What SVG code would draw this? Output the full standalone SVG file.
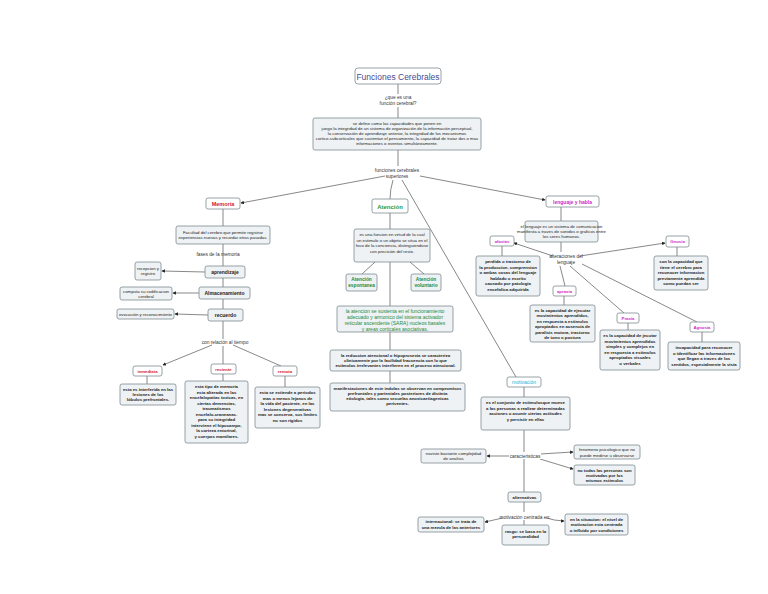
<svg xmlns="http://www.w3.org/2000/svg" width="768" height="594" viewBox="0 0 768 594">
<style>
.b{fill:#eef2f4;stroke:#7d8a90;stroke-width:0.8}
.w{fill:#ffffff;stroke:#7d8a90;stroke-width:0.8}
text{font-family:"Liberation Sans",Arial,sans-serif;font-size:4.3px;fill:#222;text-anchor:middle}
.bd{font-weight:bold}
.h{font-size:6px;font-weight:bold}
.r{fill:#d4202a}.g{fill:#1f9a3a}.m{fill:#d21fc8}.c{fill:#1ab0d8}
.gt{fill:#1f8a3a;font-weight:bold;font-size:4.8px}
.lb{font-size:4.8px;fill:#333}
#con line,#con path{stroke:#555;stroke-width:0.7;fill:none}
</style>
<defs><marker id="a" viewBox="0 0 6 6" refX="5" refY="3" markerWidth="5" markerHeight="5" orient="auto"><path d="M0 0L6 3L0 6z" fill="#222"/></marker></defs>
<rect width="768" height="594" fill="#fff"/>
<g id="con">
<line x1="398" y1="84" x2="398" y2="94"/><line x1="398" y1="107" x2="398" y2="118"/>
<line x1="398" y1="150" x2="398" y2="166"/>
<line x1="385" y1="176" x2="241" y2="203" marker-end="url(#a)"/>
<path d="M393 180 Q390 190 390 199"/>
<line x1="402" y1="180" x2="516" y2="377"/>
<line x1="420" y1="176" x2="545" y2="200" marker-end="url(#a)"/>
<line x1="223" y1="209" x2="223" y2="339"/>
<line x1="205" y1="272" x2="162" y2="271" marker-end="url(#a)"/>
<line x1="199" y1="293" x2="173" y2="293" marker-end="url(#a)"/>
<line x1="208" y1="315" x2="175" y2="314" marker-end="url(#a)"/>
<line x1="212" y1="345" x2="163" y2="365" marker-end="url(#a)"/>
<line x1="223" y1="346" x2="223" y2="364"/>
<line x1="233" y1="345" x2="281" y2="366"/>
<line x1="147" y1="376" x2="147" y2="384"/><line x1="223" y1="374" x2="223" y2="381"/><line x1="285" y1="376" x2="285" y2="387"/>
<line x1="390" y1="213" x2="390" y2="350"/>
<line x1="390" y1="371" x2="390" y2="383"/>
<line x1="375" y1="262" x2="362" y2="274"/><line x1="410" y1="262" x2="424" y2="274"/>
<line x1="561" y1="207" x2="561" y2="221"/><line x1="561" y1="242" x2="561" y2="252"/>
<line x1="553" y1="256" x2="514" y2="243" marker-end="url(#a)"/>
<line x1="580" y1="256" x2="665" y2="243" marker-end="url(#a)"/>
<line x1="560" y1="266" x2="565" y2="286"/>
<line x1="570" y1="266" x2="624" y2="313"/>
<line x1="582" y1="264" x2="697" y2="322"/>
<line x1="502" y1="246" x2="502" y2="256"/><line x1="677" y1="247" x2="677" y2="256"/>
<line x1="564" y1="296" x2="564" y2="305"/><line x1="628" y1="323" x2="628" y2="330"/><line x1="702" y1="332" x2="702" y2="342"/>
<line x1="524" y1="387" x2="524" y2="397"/>
<line x1="524" y1="430" x2="524" y2="492"/>
<line x1="510" y1="456" x2="487" y2="456" marker-end="url(#a)"/>
<line x1="540" y1="454" x2="573" y2="452" marker-end="url(#a)"/>
<line x1="540" y1="459" x2="573" y2="469" marker-end="url(#a)"/>
<line x1="524" y1="502" x2="524" y2="512"/>
<line x1="507" y1="517" x2="485" y2="522" marker-end="url(#a)"/>
<path d="M543 517 Q555 521 564 521" marker-end="url(#a)"/>
<line x1="524" y1="520" x2="524" y2="525"/>
</g>
<g id="title"><rect x="355" y="68" width="86" height="16" rx="3" class="w"/><text x="398" y="79.5" style="font-size:8.5px;fill:#4a4a90">Funciones Cerebrales</text></g>
<g id="q"><text x="398" y="99" class="lb">¿que es una</text><text x="398" y="105" class="lb">función cerebral?</text></g>
<g id="def"><rect x="313" y="118" width="168" height="32" rx="2" class="b"/>
<text x="397" y="125">se define como las capacidades que ponen en</text>
<text x="397" y="130">juego la integridad de un sistema de organización de la información perceptual,</text>
<text x="397" y="135">la conservación de aprendizaje anterior, la integridad de los mecanismos</text>
<text x="397" y="140">cortico-subcorticales que sustentan el pensamiento, la capacidad de tratar dos o mas</text>
<text x="397" y="145">informaciones o eventos simultáneamente.</text></g>
<g id="sup"><text x="397" y="172" class="lb">funciones cerebrales</text><text x="397" y="178" class="lb">superiores</text></g>
<g id="memoria"><rect x="206" y="198" width="34" height="11" rx="2" class="w"/><text x="223" y="205.5" class="bd r" style="font-size:5.5px">Memoria</text></g>
<g id="atencion"><rect x="372" y="199" width="36" height="14" rx="2" class="w"/><text x="390" y="208.5" class="g h">Atención</text></g>
<g id="lenguaje"><rect x="546" y="196" width="53" height="11" rx="2" class="w"/><text x="572.5" y="203.5" class="bd m" style="font-size:5px">lenguaje y habla</text></g>
<g id="memdef"><rect x="176" y="226" width="94" height="18" rx="2" class="b"/><text x="223" y="233.5">Facultad del cerebro que permite registrar</text><text x="223" y="239">experiencias nuevas y recordar otras pasadas.</text></g>
<g id="fases"><text x="218" y="256" class="lb">fases de la memoria</text></g>
<g id="aprend"><rect x="205" y="266" width="40" height="12" rx="2" class="b"/><text x="225" y="274" class="bd" style="font-size:5px">aprendizaje</text></g>
<g id="recep"><rect x="135" y="262" width="26" height="18" rx="2" class="b"/><text x="148" y="269.5">recepcion y</text><text x="148" y="274.5">registro</text></g>
<g id="almac"><rect x="199" y="287" width="51" height="12" rx="2" class="b"/><text x="224.5" y="295" class="bd" style="font-size:5px">Almacenamiento</text></g>
<g id="comp"><rect x="120" y="287" width="52" height="13" rx="2" class="b"/><text x="146" y="292.5">computa su codificacion</text><text x="146" y="297.5">cerebral</text></g>
<g id="recuerdo"><rect x="208" y="309" width="35" height="12" rx="2" class="b"/><text x="225.5" y="317" class="bd" style="font-size:5px">recuerdo</text></g>
<g id="evoc"><rect x="117" y="309" width="57" height="10" rx="2" class="b"/><text x="145.5" y="315.5">evocación y reconocimiento</text></g>
<g id="tiempo"><text x="225" y="344" class="lb">con relación al tiempo</text></g>
<g id="inm"><rect x="133" y="366" width="29" height="10" rx="2" class="w"/><text x="147.5" y="372.5" class="bd r">inmediata</text></g>
<g id="rec"><rect x="211" y="364" width="25" height="10" rx="2" class="w"/><text x="223.5" y="370.5" class="bd r">reciente</text></g>
<g id="rem"><rect x="273" y="366" width="24" height="10" rx="2" class="w"/><text x="285" y="372.5" class="bd r">remota</text></g>
<g id="inmd"><rect x="120" y="384" width="56" height="21" rx="2" class="b"/><text x="148" y="390.5" class="bd">esta es interferida en las</text><text x="148" y="395.5" class="bd">lesiones de los</text><text x="148" y="400.5" class="bd">lóbulos prefrontales.</text></g>
<g id="recd"><rect x="185" y="381" width="63" height="62" rx="2" class="b"/>
<text x="216.5" y="388" class="bd">esta tipo de memoria</text><text x="216.5" y="393.5" class="bd">esta alterada en las</text><text x="216.5" y="399" class="bd">encefalopatias toxicas, en</text><text x="216.5" y="404.5" class="bd">ciertas demencias,</text><text x="216.5" y="410" class="bd">traumatismos</text><text x="216.5" y="415.5" class="bd">encefalo-craneanas.</text><text x="216.5" y="421" class="bd">para su integridad</text><text x="216.5" y="426.5" class="bd">interviene el hipocampo,</text><text x="216.5" y="432" class="bd">la corteza entorinal,</text><text x="216.5" y="437.5" class="bd">y cuerpos mamilares.</text></g>
<g id="remd"><rect x="255" y="387" width="65" height="41" rx="2" class="b"/>
<text x="287.5" y="394" class="bd">esta se extiende a periodos</text><text x="287.5" y="399.5" class="bd">mas o menos lejanos de</text><text x="287.5" y="405" class="bd">la vida del paciente, en las</text><text x="287.5" y="410.5" class="bd">lesiones degenerativas</text><text x="287.5" y="416" class="bd">mas se conserva, sus limites</text><text x="287.5" y="421.5" class="bd">no son rigidos</text></g>
<g id="atdef"><rect x="354" y="229" width="76" height="33" rx="2" class="b"/><text x="392" y="236">es una funcion en virtud de la cual</text><text x="392" y="241.5">un estimulo o un objeto se situa en el</text><text x="392" y="247">foco de la conciencia, distinguiendose</text><text x="392" y="252.5">con precisión del resto.</text></g>
<g id="esp"><rect x="346" y="274" width="31" height="17" rx="2" class="b"/><text x="361.5" y="281" class="gt">Atención</text><text x="361.5" y="287" class="gt">espontanea</text></g>
<g id="vol"><rect x="411" y="274" width="30" height="17" rx="2" class="b"/><text x="426" y="281" class="gt">Atención</text><text x="426" y="287" class="gt">voluntario</text></g>
<g id="sara"><rect x="337" y="306" width="116" height="26" rx="2" class="b"/>
<text x="395" y="313" class="gt" style="font-weight:normal;font-size:5px">la atencion se sustenta en el funcionamiento</text><text x="395" y="319" class="gt" style="font-weight:normal;font-size:5px">adecuado y armonico del sistema activador</text><text x="395" y="325" class="gt" style="font-weight:normal;font-size:5px">reticular ascendente (SARA) nucleos basales</text><text x="395" y="331" class="gt" style="font-weight:normal;font-size:5px">y areas corticales asociativas.</text></g>
<g id="red"><rect x="330" y="350" width="131" height="21" rx="2" class="b"/><text x="395.5" y="356.5" class="bd">la reduccion atencional o hipoprosexia se caracteriza</text><text x="395.5" y="361.5" class="bd">clinicamente por la facilidad fracuencia con lo que</text><text x="395.5" y="366.5" class="bd">estimulos irrelevantes interfieren en el proceso atencional.</text></g>
<g id="manif"><rect x="330" y="383" width="135" height="28" rx="2" class="b"/><text x="397.5" y="390" class="bd">manifestaciones de este indolas se observan en compromisos</text><text x="397.5" y="395" class="bd">prefrontales y parientales posteriores de distinta</text><text x="397.5" y="400" class="bd">etiologia, tales como secuelas anoxicaetiagenicas</text><text x="397.5" y="405" class="bd">periventes.</text></g>
<g id="lendef"><rect x="525" y="221" width="73" height="21" rx="2" class="b"/><text x="561.5" y="228">el lenguaje es un sistema de comunicacion</text><text x="561.5" y="233">manifiesta a traves de sonidos o graficos entre</text><text x="561.5" y="238">los seres humanos.</text></g>
<g id="alter"><text x="566" y="258" class="lb">alteraciones del</text><text x="566" y="264" class="lb">lenguaje</text></g>
<g id="afasias"><rect x="490" y="236" width="24" height="10" rx="2" class="w"/><text x="502" y="242.5" class="bd m">afasias</text></g>
<g id="gnosia"><rect x="666" y="236" width="23" height="11" rx="2" class="w"/><text x="677.5" y="243" class="bd m">Gnosia</text></g>
<g id="perd"><rect x="476" y="256" width="64" height="40" rx="2" class="b"/><text x="508" y="263" class="bd">perdida o trastorno de</text><text x="508" y="268.5" class="bd">la produccion, comprension</text><text x="508" y="274" class="bd">o ambas cosas del lenguaje</text><text x="508" y="279.5" class="bd">hablado o escrito</text><text x="508" y="285" class="bd">causado por patologia</text><text x="508" y="290.5" class="bd">encefalica adquirida</text></g>
<g id="gnd"><rect x="654" y="256" width="54" height="34" rx="2" class="b"/><text x="681" y="263" class="bd">son la capacidad que</text><text x="681" y="268.5" class="bd">tiene el cerebro para</text><text x="681" y="274" class="bd">reconocer informacion</text><text x="681" y="279.5" class="bd">previamente aprendida</text><text x="681" y="285" class="bd">como puedan ser</text></g>
<g id="apraxia"><rect x="553" y="286" width="23" height="10" rx="2" class="w"/><text x="564.5" y="292.5" class="bd m">apraxia</text></g>
<g id="praxia"><rect x="617" y="313" width="22" height="10" rx="2" class="w"/><text x="628" y="319.5" class="bd m">Praxia</text></g>
<g id="agnosia"><rect x="690" y="322" width="24" height="10" rx="2" class="w"/><text x="702" y="328.5" class="bd m">Agnosia</text></g>
<g id="apd"><rect x="530" y="305" width="65" height="37" rx="2" class="b"/><text x="562.5" y="311.5" class="bd">es la capacidad de ejecutar</text><text x="562.5" y="317" class="bd">movimientos aprendidos,</text><text x="562.5" y="322.5" class="bd">en respuesta a estimulos</text><text x="562.5" y="328" class="bd">apropiados en ausencia de</text><text x="562.5" y="333.5" class="bd">paralisis motora, trastorno</text><text x="562.5" y="339" class="bd">de tono o postura</text></g>
<g id="prd"><rect x="600" y="330" width="60" height="40" rx="2" class="b"/><text x="630" y="337" class="bd">es la capacidad de jecutar</text><text x="630" y="342.5" class="bd">movimientos aprendidos</text><text x="630" y="348" class="bd">simples y complejos en</text><text x="630" y="353.5" class="bd">en respuesta a estimulos</text><text x="630" y="359" class="bd">apropiados visuales</text><text x="630" y="364.5" class="bd">o verbales</text></g>
<g id="agd"><rect x="668" y="342" width="72" height="28" rx="2" class="b"/><text x="704" y="349" class="bd">incapacidad para reconocer</text><text x="704" y="354.5" class="bd">o identificar las informaciones</text><text x="704" y="360" class="bd">que llegan a traves de los</text><text x="704" y="365.5" class="bd">sentidos, especialmente la vista</text></g>
<g id="motiv"><rect x="507" y="377" width="34" height="10" rx="2" class="w"/><text x="524" y="383.5" class="c" style="font-size:5px">motivación</text></g>
<g id="motd"><rect x="481" y="397" width="89" height="33" rx="2" class="b"/><text x="525.5" y="404" class="bd">es el conjunto de estimulosque mueve</text><text x="525.5" y="409.5" class="bd">a las personas a realizar determinadas</text><text x="525.5" y="415" class="bd">acciones o asumir ciertas actitudes</text><text x="525.5" y="420.5" class="bd">y persistir en ellas</text></g>
<g id="carac"><rect x="509" y="452" width="32" height="7" fill="#fff"/><text x="525" y="457.5" class="lb">caracteristicas</text></g>
<g id="novi"><rect x="421" y="449" width="65" height="14" rx="2" class="b"/><text x="453.5" y="455">noviste bastante complejidad</text><text x="453.5" y="460">de analisis</text></g>
<g id="fen"><rect x="574" y="445" width="66" height="14" rx="2" class="b"/><text x="607" y="451">fenomeno psicologico que no</text><text x="607" y="456.5">puede medirse u observarse</text></g>
<g id="notod"><rect x="574" y="465" width="61" height="20" rx="2" class="b"/><text x="604.5" y="471.5" class="bd">no todas las personas son</text><text x="604.5" y="476.5" class="bd">motivadas por los</text><text x="604.5" y="481.5" class="bd">mismos estimulos</text></g>
<g id="alt"><rect x="508" y="492" width="33" height="10" rx="2" class="b"/><text x="524.5" y="498.5" class="bd">alternativas</text></g>
<g id="centr"><rect x="503" y="513" width="43" height="7" fill="#fff"/><text x="525" y="518.5" class="lb">motivación centrada en:</text></g>
<g id="inter"><rect x="418" y="517" width="66" height="15" rx="2" class="b"/><text x="451" y="523" class="bd">internacional: se trata de</text><text x="451" y="528.5" class="bd">una mezcla de las anteriores</text></g>
<g id="rasgo"><rect x="502" y="525" width="47" height="20" rx="2" class="b"/><text x="525.5" y="532.5" class="bd">rasgo: se basa en la</text><text x="525.5" y="538" class="bd">personalidad</text></g>
<g id="sit"><rect x="565" y="514" width="63" height="21" rx="2" class="b"/><text x="596.5" y="520.5" class="bd">en la situacion: el nivel de</text><text x="596.5" y="526" class="bd">motivacion esta centrada</text><text x="596.5" y="531.5" class="bd">o influido por condiciones</text></g>
</svg>
